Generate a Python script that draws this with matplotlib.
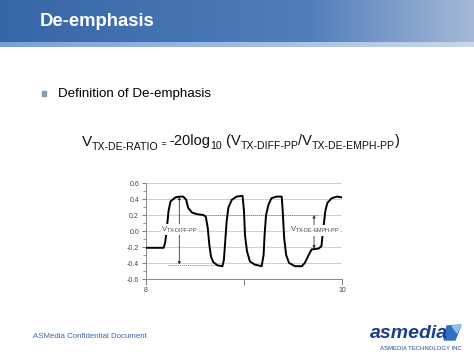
import numpy as np
import matplotlib
matplotlib.use("Agg")
import matplotlib.pyplot as plt
from matplotlib.patches import Polygon, Rectangle

# ---------------- data ----------------
t = [8.00, 8.18, 8.195, 8.21, 8.23, 8.25, 8.30, 8.34, 8.38, 8.41, 8.43, 8.47, 8.52, 8.585,
     8.61, 8.63, 8.646, 8.663, 8.687, 8.73, 8.78, 8.795, 8.806, 8.823, 8.84, 8.875, 8.925,
     8.985, 9.00, 9.01, 9.03, 9.06, 9.11, 9.18, 9.20, 9.21, 9.225, 9.25, 9.28, 9.33, 9.385,
     9.395, 9.41, 9.43, 9.46, 9.52, 9.59, 9.62, 9.66, 9.69, 9.76, 9.79, 9.81, 9.83, 9.85,
     9.895, 9.95, 10.00]
v = [-0.21, -0.21, -0.15, 0.00, 0.25, 0.37, 0.42, 0.43, 0.43, 0.39, 0.29, 0.23, 0.21, 0.20,
     0.18, 0.04, -0.17, -0.32, -0.39, -0.43, -0.44, -0.36, -0.17, 0.12, 0.29, 0.39, 0.43,
     0.44, 0.25, -0.05, -0.25, -0.38, -0.42, -0.44, -0.30, -0.05, 0.20, 0.33, 0.41, 0.43, 0.43,
     0.25, -0.09, -0.30, -0.40, -0.44, -0.44, -0.40, -0.30, -0.23, -0.22, -0.19, 0.04, 0.25, 0.35,
     0.41, 0.43, 0.42]
y_ticks = [-0.6, -0.4, -0.2, 0.0, 0.2, 0.4, 0.6]
y_ticklabels = ["-0.6", "-0.4", "-0.2", "0.0", "0.2", "0.4", "0.6"]
x_ticks = [8, 9, 10]
x_ticklabels = ["8", "", "10"]
diff_arrow = (8.34, 0.43, -0.42)      # x, top, bottom
emph_arrow = (9.715, 0.20, -0.22)
diff_ref = (8.22, 8.70, -0.42)        # dotted reference line
emph_ref = (8.57, 9.75, 0.20)

title = "De-emphasis"
bullet_text = "Definition of De-emphasis"
footer_text = "ASMedia Confidential Document"

W, H = 474, 355
fig = plt.figure(figsize=(W / 100, H / 100), dpi=100)
fig.patch.set_facecolor("white")

# ---------------- title bar ----------------
bg = fig.add_axes([0, 0, 1, 1])
bg.set_xlim(0, W)
bg.set_ylim(H, 0)
bg.axis("off")
grad = np.linspace(0, 1, 256)
c0 = np.array([55, 102, 168]) / 255
c1 = np.array([80, 126, 186]) / 255
c2 = np.array([165, 185, 215]) / 255
cols = []
for g in grad:
    if g < 0.65:
        cols.append(c0 + (c1 - c0) * g / 0.65)
    else:
        cols.append(c1 + (c2 - c1) * (g - 0.65) / 0.35)
img = np.array([cols])
bg.imshow(img, extent=[0, W, 42, 0], aspect="auto", zorder=0)
s0 = np.array([120, 160, 215]) / 255
s1 = np.array([200, 215, 235]) / 255
stripe = np.array([[s0 + (s1 - s0) * g for g in grad]])
bg.imshow(stripe, extent=[0, W, 47, 42], aspect="auto", zorder=0)
bg.text(40, 22, title, color="white", fontsize=13.3, fontweight="bold",
        family="Liberation Sans", va="center", ha="left")

# bullet
bg.add_patch(Rectangle((42, 91), 4.5, 4.5, color="#8a9bb0"))
bg.text(58, 94, bullet_text, fontsize=9.6, family="Liberation Sans",
        va="center", ha="left", color="black")

# ---------------- formula ----------------
fig.canvas.draw()
renderer = fig.canvas.get_renderer()
pieces = [("V", 11, 0), ("TX-DE-RATIO", 7.6, 4), (" = ", 6.5, 0), ("-20log", 10.5, -1),
          ("10", 7.6, 3), (" (V", 10.5, -1), ("TX-DIFF-PP", 7.6, 3), ("/V", 10.5, -1),
          ("TX-DE-EMPH-PP", 7.6, 3), (")", 10.5, -1)]
x = 82
base = 146
for s, fs, dy in pieces:
    tx = bg.text(x, base + dy, s, fontsize=fs, family="Liberation Sans",
                 va="baseline", ha="left", color="#111111")
    bb = tx.get_window_extent(renderer)
    x += bb.width

# ---------------- chart ----------------
ax = fig.add_axes([146 / W, 1 - 279 / H, 196 / W, 96 / H])
ax.set_xlim(8, 10)
ax.set_ylim(-0.6, 0.6)
for yy in y_ticks:
    ax.axhline(yy, color="#c8c8c8", lw=0.6, zorder=1)
ax.axvline(10, color="#c8c8c8", lw=0.6, zorder=1)
ax.plot(t, v, color="black", lw=1.4, zorder=3, solid_joinstyle="round")
ax.hlines(diff_ref[2], diff_ref[0], diff_ref[1], colors="#888888", lw=0.7,
          linestyles=(0, (1, 1)), zorder=2)
ax.hlines(emph_ref[2], emph_ref[0], emph_ref[1], colors="#888888", lw=0.7,
          linestyles=(0, (1, 1)), zorder=2)
for (ax_x, top, bot) in (diff_arrow, emph_arrow):
    ax.annotate("", xy=(ax_x, top), xytext=(ax_x, bot),
                arrowprops=dict(arrowstyle="<|-|>", color="#333333", lw=0.6,
                                mutation_scale=4, shrinkA=0, shrinkB=0), zorder=4)
ax.text(8.34, 0.02, r"V$_{\mathregular{TX\text{-}DIFF\text{-}PP}}$", fontsize=5.5,
        color="#444444", ha="center", va="center", family="Liberation Sans",
        bbox=dict(facecolor="white", edgecolor="none", pad=0.3), zorder=5)
ax.text(9.72, 0.01, r"V$_{\mathregular{TX\text{-}DE\text{-}EMPH\text{-}PP}}$", fontsize=5.5,
        color="#444444", ha="center", va="center", family="Liberation Sans",
        bbox=dict(facecolor="white", edgecolor="none", pad=0.3), zorder=5)

ax.set_yticks(y_ticks)
ax.set_yticklabels(y_ticklabels)
ax.set_yticks(np.arange(-0.6, 0.61, 0.1), minor=True)
ax.set_xticks(x_ticks)
ax.set_xticklabels(x_ticklabels)
ax.tick_params(axis="both", which="major", labelsize=5, colors="#666666",
               labelcolor="#444444", length=3, width=0.6, pad=2)
ax.tick_params(axis="y", which="minor", length=2, width=0.5, colors="#666666")
ax.tick_params(axis="x", which="major", length=4)
for sp in ("top", "right"):
    ax.spines[sp].set_visible(False)
for sp in ("left", "bottom"):
    ax.spines[sp].set_color("#888888")
    ax.spines[sp].set_linewidth(0.7)
ax.set_facecolor("none")
for lab in ax.get_xticklabels() + ax.get_yticklabels():
    lab.set_family("Liberation Sans")

# ---------------- footer ----------------
bg.text(33, 336, footer_text, fontsize=5.7, color="#3a64b4", family="Liberation Sans",
        va="center", ha="left")
bg.text(370, 333, "asmedia", fontsize=14, fontweight="bold", style="italic",
        color="#1b3f8e", family="Liberation Sans", va="center", ha="left")
bg.add_patch(Polygon([[447, 326], [461, 325], [455, 340], [444, 340]],
                     closed=True, color="#2f6fc0"))
bg.add_patch(Polygon([[452, 326], [461, 325], [457, 333]], closed=True, color="#8fc0ea"))
bg.text(380, 348, "ASMEDIA TECHNOLOGY INC", fontsize=4.3, color="#2a4a90",
        family="Liberation Sans", va="center", ha="left")

fig.savefig("out.png", dpi=100)
